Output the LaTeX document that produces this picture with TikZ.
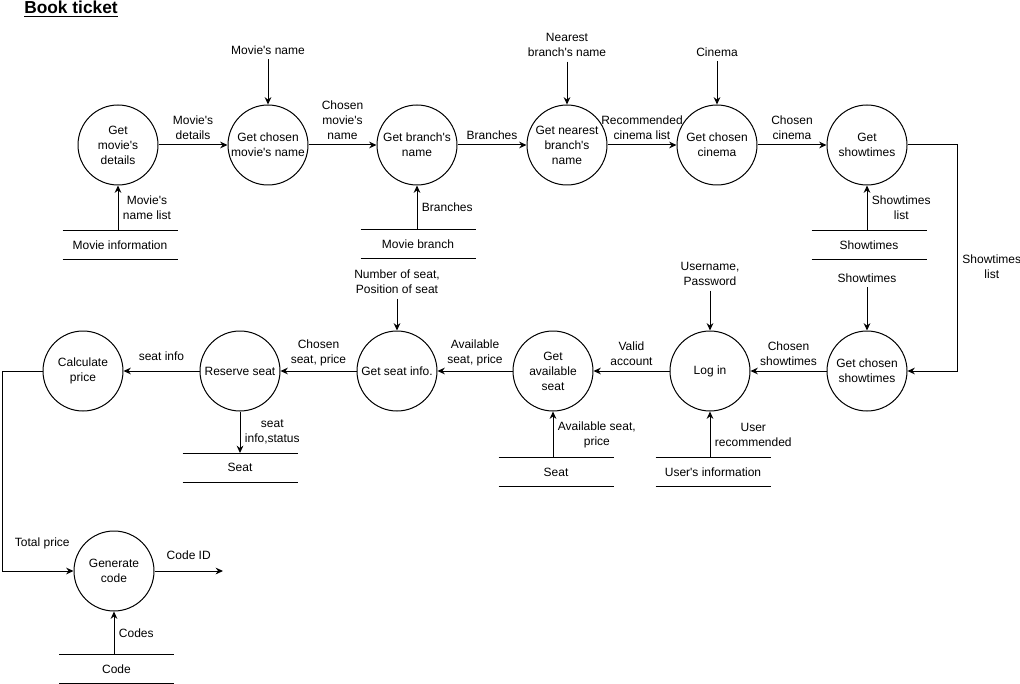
\documentclass[tikz,border=0pt]{standalone}
\usepackage{fontspec}
\setmainfont{Liberation Sans}[Ligatures=TeXOff]
\usetikzlibrary{arrows.meta}
\begin{document}
\begin{tikzpicture}[x=0.75pt,y=-0.75pt,line width=0.75pt,
  font=\fontsize{9}{11.25}\selectfont,
  proc/.style={draw,circle,minimum size=60pt,inner sep=0pt,align=center},
  store/.style={minimum width=85.5pt,minimum height=21pt,inner sep=0pt},
  flow/.style={-{Stealth[length=5.5pt,width=5pt,inset=1.8pt]}},
  lbl/.style={align=center}]
  \useasboundingbox (0,0) rectangle (1020,684);
  \node[font=\fontsize{13}{15}\selectfont\bfseries] (title) at (71,9) {\underline{Book ticket}};

  \node[proc] (gmd) at (118,145) {Get\\movie's\\details};
  \node[proc] (gcm) at (268,145) {Get chosen\\movie's name};
  \node[proc] (gbn) at (417,145) {Get branch's\\name};
  \node[proc] (gnb) at (567,145) {Get nearest\\branch's\\name};
  \node[proc] (gcc) at (717,145) {Get chosen\\cinema};
  \node[proc] (gst) at (867,145) {Get\\showtimes};

  \node[proc] (gcs) at (867,371) {Get chosen\\showtimes};
  \node[proc] (li)  at (710,371) {Log in};
  \node[proc] (gas) at (553,371) {Get\\available\\seat};
  \node[proc] (gsi) at (397,371) {Get seat info.};
  \node[proc] (rs)  at (240,371) {Reserve seat};
  \node[proc] (cp)  at (83,371)  {Calculate\\price};
  \node[proc] (gc)  at (114,571) {Generate\\code};

  \node[store] (mi)    at (120,245)   {Movie information};
  \node[store] (mb)    at (418,244)   {Movie branch};
  \node[store] (st)    at (869,245)   {Showtimes};
  \node[store] (seatl) at (240,467.5) {Seat};
  \node[store] (seatr) at (556,472)   {Seat};
  \node[store] (ui)    at (713,472)   {User's information};
  \node[store] (code)  at (116.5,669) {Code};
  \foreach \s in {mi,mb,st,seatl,seatr,ui,code}
    \draw (\s.north west) -- (\s.north east) (\s.south west) -- (\s.south east);

  \node[lbl] (mn)  at (268,50)  {Movie's name};
  \node[lbl] (nbn) at (567,45)  {Nearest\\branch's name};
  \node[lbl] (cin) at (717,52)  {Cinema};
  \node[lbl] (sht) at (867,278) {Showtimes};
  \node[lbl] (up)  at (710,274) {Username,\\Password};
  \node[lbl] (nps) at (397,282) {Number of seat,\\Position of seat};

  \draw[flow] (mn) -- (gcm);
  \draw[flow] (nbn) -- (gnb);
  \draw[flow] (cin) -- (gcc);
  \draw[flow] (sht) -- (gcs);
  \draw[flow] (up) -- (li);
  \draw[flow] (nps) -- (gsi);

  \draw[flow] (gmd) -- (gcm) node[midway,above,lbl] {Movie's\\details};
  \draw[flow] (gcm) -- (gbn) node[midway,above,lbl] {Chosen\\movie's\\name};
  \draw[flow] (gbn) -- (gnb) node[midway,above,lbl] {Branches};
  \draw[flow] (gnb) -- (gcc) node[midway,above,lbl] {Recommended\\cinema list};
  \draw[flow] (gcc) -- (gst) node[midway,above,lbl] {Chosen\\cinema};
  \draw[flow] (gst.east) -- ++(50,0) |- (gcs.east) node[pos=0.27,right,lbl] {Showtimes\\list};

  \draw[flow] (gcs) -- (li)  node[midway,above,lbl] {Chosen\\showtimes};
  \draw[flow] (li)  -- (gas) node[midway,above,lbl] {Valid\\account};
  \draw[flow] (gas) -- (gsi) node[midway,above,lbl] {Available\\seat, price};
  \draw[flow] (gsi) -- (rs)  node[midway,above,lbl] {Chosen\\seat, price};
  \draw[flow] (rs)  -- (cp)  node[midway,above=4pt,lbl] {seat info};
  \draw[flow] (cp.west) -- ++(-40,0) |- (gc.west) node[pos=0.78,above=13pt] {Total price};
  \draw[flow] (gc) -- ++(109,0) node[midway,above=5pt] {Code ID};

  \draw[flow] (mi.north -| gmd) -- (gmd) node[midway,right,lbl] {Movie's\\name list};
  \draw[flow] (mb.north -| gbn) -- (gbn) node[midway,right] {Branches};
  \draw[flow] (st.north -| gst) -- (gst) node[midway,right,lbl] {Showtimes\\list};
  \draw[flow] (rs) -- (rs |- seatl.north) node[midway,right,lbl] {seat\\info,status};
  \draw[flow] (seatr.north -| gas) -- (gas) node[midway,right,lbl] {Available seat,\\price};
  \draw[flow] (ui.north -| li) -- (li) node[midway,right,lbl] {User\\recommended};
  \draw[flow] (code.north -| gc) -- (gc) node[midway,right] {Codes};
\end{tikzpicture}
\end{document}
